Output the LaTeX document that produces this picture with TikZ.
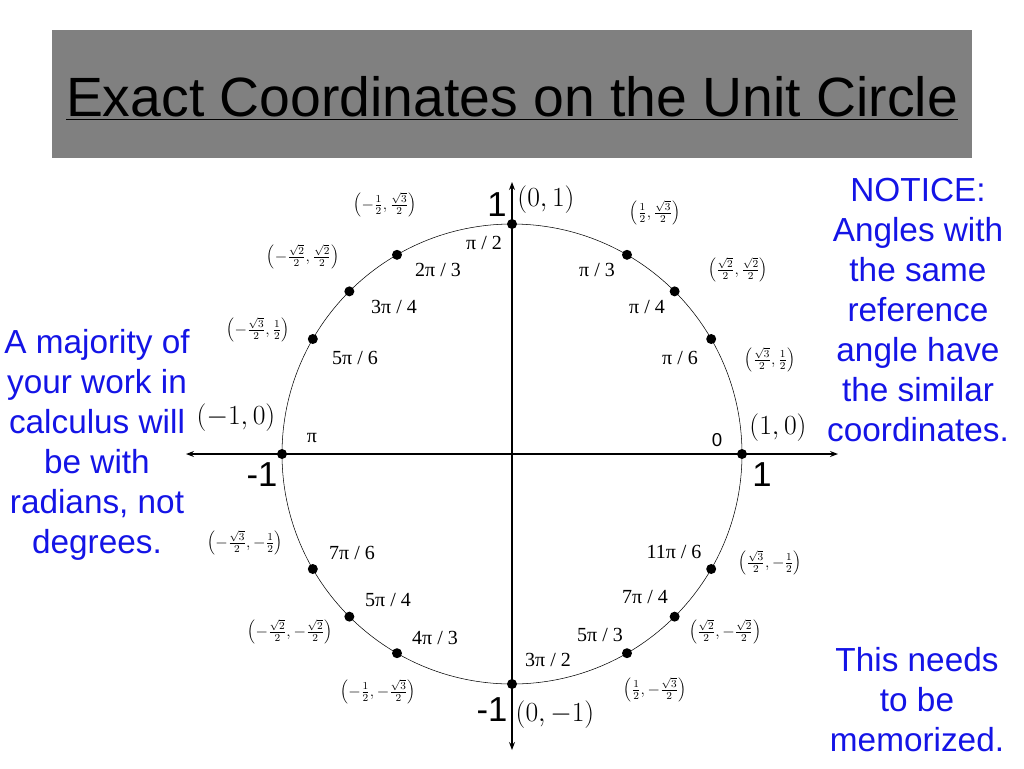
\documentclass[tikz,border=0pt]{standalone}
\usepackage{fontspec}
\setmainfont{Liberation Sans}
\newfontfamily\tms{Liberation Serif}
\usetikzlibrary{arrows.meta,calc}
\definecolor{tgray}{RGB}{128,128,128}
\definecolor{nblue}{RGB}{20,20,230}
\begin{document}
\begin{tikzpicture}[x=0.75pt,y=-0.75pt,
  ang/.style={font=\tms\fontsize{15}{17}\selectfont,inner sep=0pt},
  crd/.style={font=\fontsize{11.5}{13}\selectfont,inner sep=0pt},
  big/.style={font=\tms\fontsize{20}{22}\selectfont,inner sep=0pt},
  axl/.style={font=\fontsize{26}{28}\selectfont,inner sep=0pt},
  note/.style={font=\fontsize{25}{30}\selectfont,text=nblue,align=center,inner sep=0pt},
  dotn/.style={circle,fill=black,inner sep=0pt,minimum size=7.5pt}]
\useasboundingbox (0,0) rectangle (1024,768);
\node[fill=tgray,minimum width=690pt,minimum height=96pt,anchor=north west] (tbox) at (52,30) {};
\node[font=\fontsize{41.5}{44}\selectfont] (title) at (512,98) {\underline{Exact Coordinates on the Unit Circle}};
\coordinate (O) at (512,454);
\coordinate (xl) at (186,454); \coordinate (xr) at (838,454);
\coordinate (yt) at (512,182); \coordinate (yb) at (512,750);
\draw[{Stealth[length=6pt]}-{Stealth[length=6pt]},thick] (xl) -- (xr);
\draw[{Stealth[length=6pt]}-{Stealth[length=6pt]},thick] (yt) -- (yb);
\draw (O) circle[radius=230];
\foreach \a in {0,30,45,60,90,120,135,150,180,210,225,240,270,300,315,330}
  \node[dotn] (d\a) at ($(O)+(\a:230 and -230)$) {};
\node[axl] (one1) at (497,205) {1};
\node[axl] (m1l) at (262,475) {-1};
\node[axl] (one2) at (762,475) {1};
\node[axl] (m1b) at (492,710) {-1};
\node[font=\fontsize{14}{16}\selectfont] (zero) at (717,440) {0};
\node[ang] (pi) at (312,438) {π};
\node[ang] at (484,243) {π / 2};
\node[ang] at (438,270) {2π / 3};
\node[ang] at (394,307) {3π / 4};
\node[ang] at (355,358) {5π / 6};
\node[ang] at (597,270) {π / 3};
\node[ang] at (647,307) {π / 4};
\node[ang] at (680,358) {π / 6};
\node[ang] at (352,553) {7π / 6};
\node[ang] at (388,600) {5π / 4};
\node[ang] at (435,638) {4π / 3};
\node[ang] at (548,660) {3π / 2};
\node[ang] at (600,635) {5π / 3};
\node[ang] at (645,597) {7π / 4};
\node[ang] at (674,552) {11π / 6};
\node[big] at (546,200) {$\left(0,1\right)$};
\node[big] at (778,428) {$\left(1,0\right)$};
\node[big] at (236,418) {$\left(-1,0\right)$};
\node[big] at (555,715) {$\left(0,-1\right)$};
\node[crd] at (655,213) {$\left(\frac{1}{2},\frac{\sqrt3}{2}\right)$};
\node[crd] at (738,270) {$\left(\frac{\sqrt2}{2},\frac{\sqrt2}{2}\right)$};
\node[crd] at (770,360) {$\left(\frac{\sqrt3}{2},\frac{1}{2}\right)$};
\node[crd] at (258,330) {$\left(-\frac{\sqrt3}{2},\frac{1}{2}\right)$};
\node[crd] at (303,257) {$\left(-\frac{\sqrt2}{2},\frac{\sqrt2}{2}\right)$};
\node[crd] at (385,205) {$\left(-\frac{1}{2},\frac{\sqrt3}{2}\right)$};
\node[crd] at (245,543) {$\left(-\frac{\sqrt3}{2},-\frac{1}{2}\right)$};
\node[crd] at (290,632) {$\left(-\frac{\sqrt2}{2},-\frac{\sqrt2}{2}\right)$};
\node[crd] at (378,692) {$\left(-\frac{1}{2},-\frac{\sqrt3}{2}\right)$};
\node[crd] at (655,690) {$\left(\frac{1}{2},-\frac{\sqrt3}{2}\right)$};
\node[crd] at (725,632) {$\left(\frac{\sqrt2}{2},-\frac{\sqrt2}{2}\right)$};
\node[crd] at (770,563) {$\left(\frac{\sqrt3}{2},-\frac{1}{2}\right)$};
\node[note] (left) at (97,445) {A majority of\\your work in\\calculus will\\be with\\radians, not\\degrees.};
\node[note] (right) at (918,310) {NOTICE:\\Angles with\\the same\\reference\\angle have\\the similar\\coordinates.};
\node[note] (mem) at (917,700) {This needs\\to be\\memorized.};
\end{tikzpicture}
\end{document}
